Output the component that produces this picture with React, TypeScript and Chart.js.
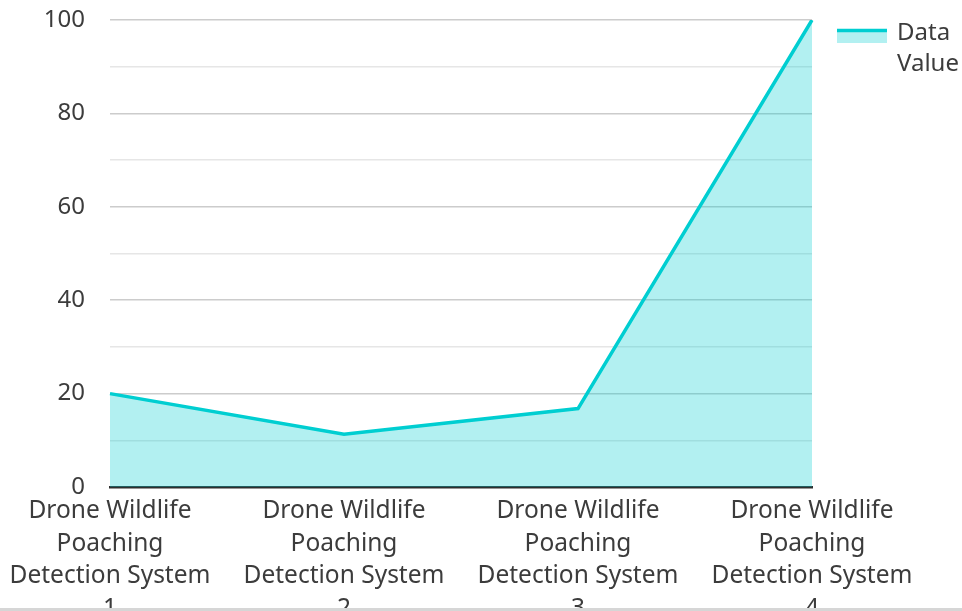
import React, { useEffect, useRef } from "react";
import { Chart, registerables } from "chart.js";

Chart.register(...registerables);

const categories: string[][] = [
  ["Drone Wildlife", "Poaching", "Detection System", "1"],
  ["Drone Wildlife", "Poaching", "Detection System", "2"],
  ["Drone Wildlife", "Poaching", "Detection System", "3"],
  ["Drone Wildlife", "Poaching", "Detection System", "4"],
];
const dataValues: number[] = [20, 11.3, 16.8, 100];
const seriesLabel = ["Data", "Value"];

const LINE = "#00CED1";
const FILL = "rgba(0,206,209,0.3)";
const TEXT = "#3c3c3c";
const FONT = "'Noto Sans', 'Open Sans', sans-serif";

const W = 962;
const H = 660;
const PLOT_LEFT = 110;
const PLOT_RIGHT = 812;
const PLOT_TOP = 20;
const PLOT_BOTTOM = 487;

const legendPlugin = {
  id: "customLegend",
  afterDraw(chart: any) {
    const ctx = chart.ctx as CanvasRenderingContext2D;
    ctx.save();
    const bx = 837;
    const by = 29;
    ctx.fillStyle = FILL;
    ctx.fillRect(bx, by, 50, 14);
    ctx.strokeStyle = LINE;
    ctx.lineWidth = 3.5;
    ctx.beginPath();
    ctx.moveTo(bx, by + 1.5);
    ctx.lineTo(bx + 50, by + 1.5);
    ctx.stroke();
    ctx.fillStyle = TEXT;
    ctx.font = `24px ${FONT}`;
    ctx.textAlign = "left";
    ctx.textBaseline = "alphabetic";
    seriesLabel.forEach((t, i) => ctx.fillText(t, 897, 40 + i * 31));
    ctx.restore();
  },
};

export default function App() {
  const ref = useRef<HTMLCanvasElement | null>(null);
  useEffect(() => {
    if (!ref.current) return;
    const chart = new Chart(ref.current, {
      type: "line",
      data: {
        labels: categories,
        datasets: [
          {
            label: seriesLabel.join(" "),
            data: dataValues,
            borderColor: LINE,
            backgroundColor: FILL,
            borderWidth: 3.5,
            fill: "origin",
            tension: 0,
            pointRadius: 0,
            pointHoverRadius: 0,
          },
        ],
      },
      options: {
        responsive: false,
        animation: false,
        maintainAspectRatio: false,
        layout: { padding: { top: 0, right: W - PLOT_RIGHT, bottom: 0, left: 0 } },
        plugins: { legend: { display: false }, tooltip: { enabled: false } },
        scales: {
          x: {
            offset: false,
            grid: { display: false, drawTicks: false },
            border: { display: true, color: "#2e2e2e", width: 2.5 },
            ticks: {
              color: TEXT,
              font: { family: FONT, size: 24.5, lineHeight: 1.33 },
              padding: 8,
              maxRotation: 0,
              autoSkip: false,
            },
            afterFit(s: any) {
              s.height = H - PLOT_BOTTOM;
            },
          },
          y: {
            min: 0,
            max: 100,
            grid: {
              drawTicks: false,
              color: (c: any) =>
                c.tick && c.tick.value % 20 === 0 ? "#cccccc" : "#e6e6e6",
              lineWidth: 1.5,
            },
            border: { display: false },
            ticks: {
              stepSize: 10,
              color: TEXT,
              font: { family: FONT, size: 24 },
              padding: 25,
              callback: (v: any) => (Number(v) % 20 === 0 ? String(v) : ""),
            },
            afterFit(s: any) {
              s.width = PLOT_LEFT;
              s.paddingTop = PLOT_TOP;
              s.paddingBottom = 0;
            },
          },
        },
      },
      plugins: [legendPlugin],
    });
    return () => chart.destroy();
  }, []);
  return (
    <div
      style={{
        position: "absolute",
        left: 0,
        top: 0,
        width: W,
        height: 608,
        overflow: "hidden",
        borderBottom: "3px solid #d6d6d6",
        background: "#fff",
      }}
    >
      <canvas ref={ref} width={W} height={H} style={{ display: "block" }} />
    </div>
  );
}
